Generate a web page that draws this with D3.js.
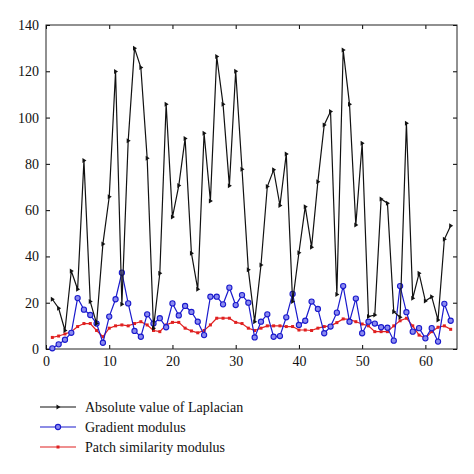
<!DOCTYPE html><html><head><meta charset="utf-8"><script src="https://cdn.jsdelivr.net/npm/d3@7"></script>
<style>body{margin:0;background:#fff}text{font-family:"Liberation Serif",serif}</style></head><body><svg id="c" width="474" height="474"></svg><script>
const laplacian=[21.5,17.6,8,33.7,25.8,81.4,20.5,11,45.4,65.8,119.9,19.3,90,130,121.6,82.4,9,32.7,105.8,57,70.6,91,41.4,25.8,93.2,64,126.4,105.8,70.5,120,77.7,34.2,11.8,36.3,70.2,77.4,62,84.3,20.5,41.6,61.5,44,72.3,96.8,102.6,23.6,129.2,105.8,53.6,88.9,14,14.7,64.8,63,16.1,13.7,97.6,21.9,32.7,20.7,22.6,12.5,47.4,53.3];
const gradient=[0.3,2,4,7,22,17,14.7,11,2.7,14,21.5,33,19.7,7.8,5.3,15,11,13.3,9.4,19.7,14.5,18.6,16,11.8,6,22.6,22.6,19.3,26.5,19,23.3,20,5,11.8,15,5.3,5.6,13.7,23.8,10.4,12.2,20.5,17.3,6.8,9.7,15.7,27.2,11.8,21.8,6.8,11.8,11,9.4,9.2,3.6,27.2,15.9,7.5,9,4.6,9,3.2,19.5,12.2];
const patch=[5,5.6,6.5,7.5,9.7,11,11,8,5.3,9,10,10.4,10,11,11.8,10.4,8,7.5,10.4,11.5,11.5,9,7.8,7,8,10.4,13.3,13.3,13.3,11.5,11,9,8,9,10,10,10,9.7,9.7,8.2,8.2,8,9,9.7,10,11.4,13,12.8,11.8,10.8,10,7.5,7.5,7.5,10,12.2,13.3,10,6,4.6,7.5,9.4,10,8.5];
const xTicks=[0,10,20,30,40,50,60], yTicks=[0,20,40,60,80,100,120,140];
const names=["Absolute value of Laplacian","Gradient modulus","Patch similarity modulus"];
const svg=d3.select("#c");
const L=46,R=457,T=25,B=349;
const x=d3.scaleLinear().domain([0,65]).range([L,R]);
const y=d3.scaleLinear().domain([0,140]).range([B,T]);
const g=svg.append("g");
g.append("g").attr("transform",`translate(0,${B})`).call(d3.axisBottom(x).tickValues(xTicks).tickSizeInner(-4).tickSizeOuter(0).tickPadding(7));
g.append("g").attr("transform",`translate(${L},0)`).call(d3.axisLeft(y).tickValues(yTicks).tickSizeInner(-4).tickSizeOuter(0).tickPadding(7));
g.append("g").attr("transform",`translate(0,${T})`).call(d3.axisTop(x).tickValues(xTicks).tickSizeInner(-4).tickSizeOuter(0).tickFormat(""));
g.append("g").attr("transform",`translate(${R},0)`).call(d3.axisRight(y).tickValues(yTicks).tickSizeInner(-4).tickSizeOuter(0).tickFormat(""));
g.selectAll(".tick text").attr("font-size",14).attr("font-family","Liberation Serif").attr("fill","#111");
g.selectAll(".domain").remove();
svg.append("rect").attr("x",L).attr("y",T).attr("width",R-L).attr("height",B-T).attr("fill","none").attr("stroke","#222").attr("stroke-width",1);
const line=d3.line().x((d,i)=>x(i+1)).y(d=>y(d));
const series=[{d:patch,c:"#e02020",m:"sq"},{d:gradient,c:"#1a1acc",m:"ci"},{d:laplacian,c:"#111",m:"tri"}];
function marker(sel,m,c){
  if(m=="sq") sel.append("rect").attr("x",-1.5).attr("y",-1.5).attr("width",3).attr("height",3).attr("fill",c);
  else if(m=="ci") sel.append("circle").attr("r",2.6).attr("fill","#8a8af0").attr("stroke",c).attr("stroke-width",1.1);
  else sel.append("path").attr("d","M-1.5,-2.5L2.5,0L-1.5,2.5Z").attr("fill",c);
}
series.forEach(s=>{
  svg.append("path").datum(s.d).attr("d",line).attr("fill","none").attr("stroke",s.c).attr("stroke-width",1.2);
  svg.append("g").selectAll("g").data(s.d).join("g").attr("transform",(d,i)=>`translate(${x(i+1)},${y(d)})`).each(function(){marker(d3.select(this),s.m,s.c);});
});
const lg=[{c:"#111",m:"tri"},{c:"#1a1acc",m:"ci"},{c:"#e02020",m:"sq"}];
lg.forEach((s,i)=>{
  const yy=407+i*20;
  svg.append("line").attr("x1",40).attr("x2",76).attr("y1",yy).attr("y2",yy).attr("stroke",s.c).attr("stroke-width",1.2);
  const m=svg.append("g").attr("transform",`translate(58,${yy})`);marker(m,s.m,s.c);
  svg.append("text").attr("x",85).attr("y",yy+5).attr("font-size",14).attr("fill","#111").text(names[i]);
});
</script></body></html>
